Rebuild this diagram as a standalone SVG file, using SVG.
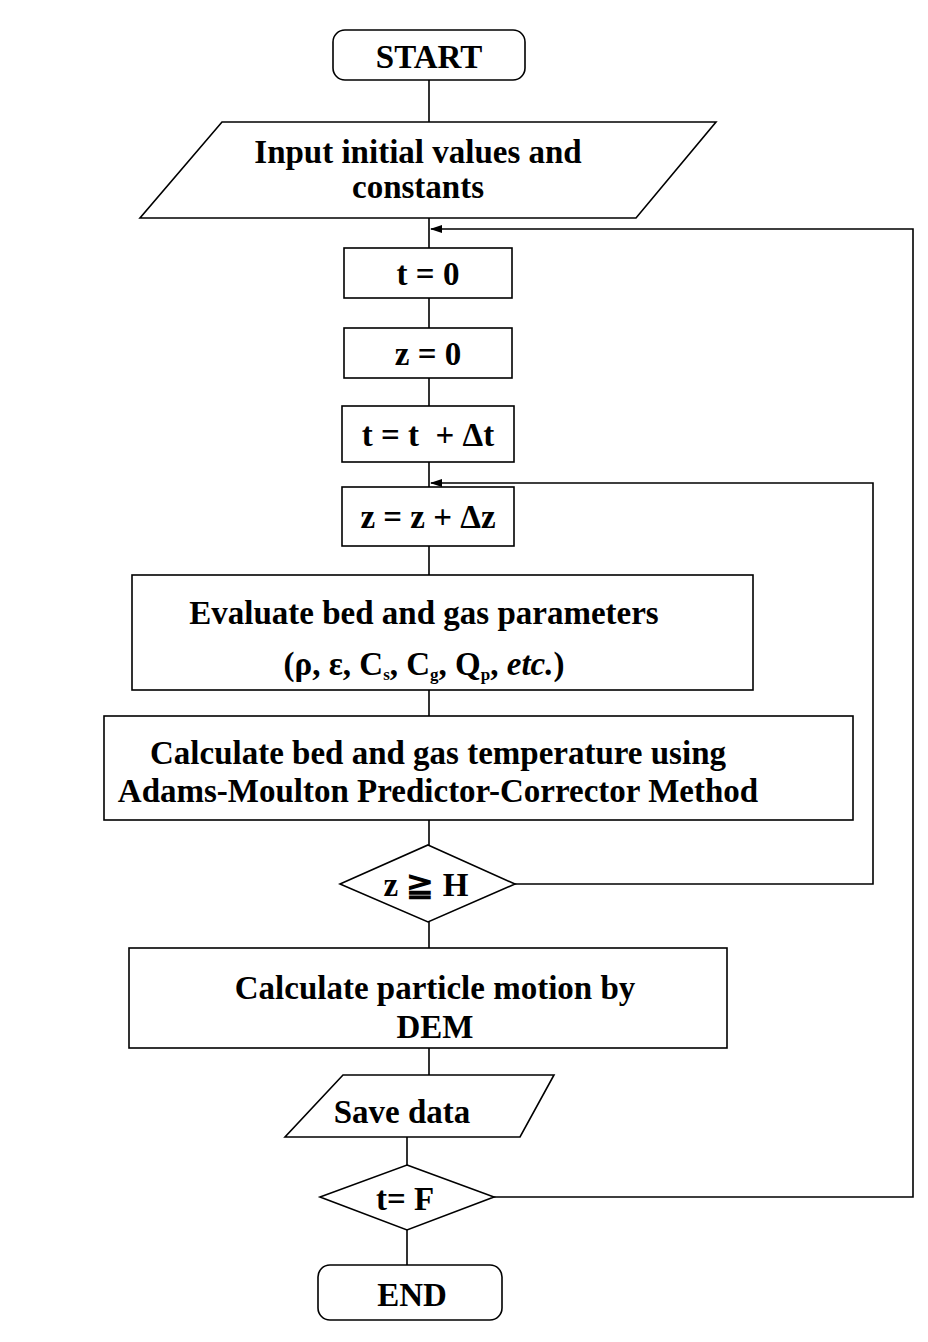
<svg xmlns="http://www.w3.org/2000/svg" width="928" height="1342" viewBox="0 0 928 1342">
<style>
.s{fill:#fff;stroke:#000;stroke-width:1.6}
.l{fill:none;stroke:#000;stroke-width:1.6}
text{font-family:"Liberation Serif","Times New Roman",serif;font-weight:bold;font-size:33px;text-anchor:middle;fill:#000}
</style>
<defs><marker id="a" markerWidth="12" markerHeight="8" refX="11" refY="4" orient="auto" markerUnits="userSpaceOnUse"><path d="M0,0 L12,4 L0,8 z" fill="#000"/></marker></defs>
<rect width="928" height="1342" fill="#fff"/>
<g id="connectors">
<path class="l" d="M429,80 V122 M429,218 V248 M429,298 V328 M429,378 V406 M429,462 V487 M429,546 V575 M429,690 V716 M429,820 V845 M429,922 V948 M429,1048 V1075 M407,1137 V1165 M407,1230 V1265"/>
<path class="l" d="M494,1197 H913 V229 H431" marker-end="url(#a)"/>
<path class="l" d="M515,884 H873 V483 H431" marker-end="url(#a)"/>
</g>
<g id="start"><rect class="s" x="333" y="30" width="192" height="50" rx="12"/><text x="429" y="68">START</text></g>
<g id="input"><polygon class="s" points="222,122 716,122 636,218 140,218"/><text x="418" y="163">Input initial values and</text><text x="418" y="198">constants</text></g>
<g id="t0"><rect class="s" x="344" y="248" width="168" height="50"/><text x="428" y="285">t = 0</text></g>
<g id="z0"><rect class="s" x="344" y="328" width="168" height="50"/><text x="428" y="365">z = 0</text></g>
<g id="tinc"><rect class="s" x="342" y="406" width="172" height="56"/><text x="428" y="446" xml:space="preserve">t = t  + Δt</text></g>
<g id="zinc"><rect class="s" x="342" y="487" width="172" height="59"/><text x="428" y="528">z = z + Δz</text></g>
<g id="eval"><rect class="s" x="132" y="575" width="621" height="115"/><text x="424" y="624">Evaluate bed and gas parameters</text><text x="424" y="675">(ρ, ε, C<tspan font-size="17" dy="5">s</tspan><tspan dy="-5">, C</tspan><tspan font-size="17" dy="5">g</tspan><tspan dy="-5">, Q</tspan><tspan font-size="17" dy="5">p</tspan><tspan dy="-5">, </tspan><tspan font-style="italic">etc.</tspan>)</text></g>
<g id="calc"><rect class="s" x="104" y="716" width="749" height="104"/><text x="438" y="764">Calculate bed and gas temperature using</text><text x="438" y="802">Adams-Moulton Predictor-Corrector Method</text></g>
<g id="dz"><polygon class="s" points="428,845 515,884 428,922 340,884"/><text x="426" y="896">z ≧ H</text></g>
<g id="dem"><rect class="s" x="129" y="948" width="598" height="100"/><text x="435" y="999">Calculate particle motion by</text><text x="435" y="1038">DEM</text></g>
<g id="save"><polygon class="s" points="343,1075 554,1075 520,1137 285,1137"/><text x="402" y="1123">Save data</text></g>
<g id="dt"><polygon class="s" points="407,1165 494,1197 407,1230 320,1197"/><text x="405" y="1210">t= F</text></g>
<g id="end"><rect class="s" x="318" y="1265" width="184" height="55" rx="12"/><text x="412" y="1306">END</text></g>
</svg>
